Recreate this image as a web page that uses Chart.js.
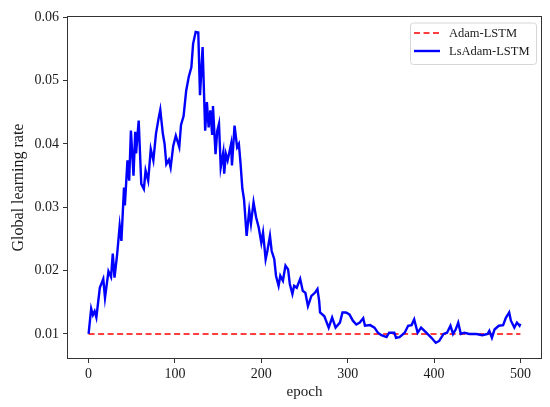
<!DOCTYPE html>
<html>
<head>
<meta charset="utf-8">
<script src="https://cdn.jsdelivr.net/npm/chart.js@4"></script>
<style>
  html, body { margin: 0; padding: 0; background: #fff; }
  #wrap { width: 550px; height: 407px; position: relative; }
</style>
</head>
<body>
<div id="wrap"><canvas id="c"></canvas></div>
<script>
// ---- data ----
const seriesNames = ['Adam-LSTM', 'LsAdam-LSTM'];
const adamEpochs = [0, 500];
const adamLR = [0.01, 0.01];
const lsEpochs = [0,3,5,7,9,13,17,19,23,26,28,30,33,36,38,41,42,45,47,49,52,54,55,58,61,64,66,69,72,75,78,81,83,86,88,90,93,95,98,101,105,107,110,113,116,119,121,124,127,129,132,135,137,139,141,143,144,147,149,151,153,156,157,159,161,165,166,169,172,174,176,178,180,183,186,188,191,194,197,200,202,205,207,210,212,215,217,220,222,225,228,231,233,236,238,241,245,248,251,254,258,262,265,267,268,273,278,282,286,291,294,298,302,306,310,314,318,320,326,331,335,339,345,348,354,356,360,366,370,374,377,381,385,391,397,402,406,411,415,419,422,425,428,431,435,441,449,456,462,464,467,470,475,480,483,487,489,493,496,499,500];
const lsLR = [0.0100,0.0140,0.0130,0.0136,0.0126,0.0173,0.0187,0.0157,0.0199,0.0190,0.0227,0.0189,0.0225,0.0271,0.0247,0.0331,0.0303,0.0374,0.0342,0.0421,0.0350,0.0419,0.0385,0.0437,0.0337,0.0329,0.0358,0.0342,0.0392,0.0374,0.0416,0.0440,0.0454,0.0416,0.0400,0.0368,0.0375,0.0363,0.0397,0.0413,0.0395,0.0430,0.0444,0.0484,0.0506,0.0521,0.0558,0.0577,0.0576,0.0477,0.0553,0.0421,0.0466,0.0426,0.0453,0.0416,0.0460,0.0384,0.0421,0.0432,0.0363,0.0387,0.0353,0.0384,0.0374,0.0400,0.0366,0.0429,0.0395,0.0400,0.0368,0.0330,0.0312,0.0255,0.0295,0.0274,0.0308,0.0284,0.0268,0.0244,0.0260,0.0218,0.0231,0.0255,0.0231,0.0218,0.0192,0.0176,0.0192,0.0184,0.0208,0.0202,0.0179,0.0163,0.0176,0.0173,0.0187,0.0168,0.0165,0.0144,0.0160,0.0165,0.0171,0.0152,0.0134,0.0128,0.0110,0.0126,0.0110,0.0118,0.0134,0.0134,0.0131,0.0121,0.0115,0.0118,0.0125,0.0113,0.0114,0.0110,0.0102,0.0098,0.0095,0.0102,0.0102,0.0094,0.0095,0.0102,0.0113,0.0114,0.0123,0.0102,0.0110,0.0102,0.0094,0.0086,0.0089,0.0100,0.0102,0.0113,0.0100,0.0107,0.0118,0.0100,0.0102,0.0100,0.0100,0.0098,0.0100,0.0105,0.0094,0.0107,0.0113,0.0114,0.0125,0.0134,0.0121,0.0110,0.0118,0.0113,0.0116];
const xTicks = [0, 100, 200, 300, 400, 500];
const yTicks = [0.01, 0.02, 0.03, 0.04, 0.05, 0.06];
const xTitle = 'epoch';
const yTitle = 'Global learning rate';

// ---- styles ----
const FONT = "'Liberation Serif', 'DejaVu Serif', serif";
const TEXT = '#1a1a1a';
const AXIS = '#333333';

const toPts = (xs, ys) => xs.map((x, i) => ({ x: x, y: ys[i] }));

const frameAndLegend = {
  id: 'frameAndLegend',
  afterDatasetsDraw(chart) {
    const { ctx, chartArea: a } = chart;
    ctx.save();
    ctx.strokeStyle = AXIS;
    ctx.lineWidth = 1;
    ctx.strokeRect(Math.round(a.left) + 0.5, Math.round(a.top) + 0.5,
                   Math.round(a.right - a.left) - 1, Math.round(a.bottom - a.top) - 1);
    ctx.restore();
  },
  afterDraw(chart) {
    const { ctx } = chart;
    const bx = 410, by = 22.5, bw = 126, bh = 41.5, r = 3;
    ctx.save();
    ctx.beginPath();
    ctx.roundRect(bx + 0.5, by + 0.5, bw, bh, r);
    ctx.fillStyle = 'rgba(255,255,255,0.85)';
    ctx.fill();
    ctx.strokeStyle = '#d6d6d6';
    ctx.lineWidth = 1;
    ctx.stroke();
    const order = [0, 1];
    const rows = [33, 51];
    order.forEach((di, k) => {
      const ds = chart.data.datasets[di];
      const y = rows[k];
      ctx.beginPath();
      ctx.setLineDash(ds.borderDash || []);
      ctx.strokeStyle = ds.borderColor;
      ctx.lineWidth = ds.borderWidth;
      ctx.moveTo(414, y);
      ctx.lineTo(440, y);
      ctx.stroke();
      ctx.setLineDash([]);
      ctx.fillStyle = TEXT;
      ctx.font = "12.5px " + FONT;
      ctx.textBaseline = 'middle';
      ctx.textAlign = 'left';
      ctx.fillText(ds.label, 449, y + 0.5);
    });
    ctx.restore();
  }
};

new Chart(document.getElementById('c'), {
  type: 'line',
  data: {
    datasets: [
      {
        label: seriesNames[0],
        data: toPts(adamEpochs, adamLR),
        borderColor: '#ff0000',
        borderWidth: 1.7,
        borderDash: [6, 3.5],
        pointRadius: 0,
        fill: false,
        order: 2
      },
      {
        label: seriesNames[1],
        data: toPts(lsEpochs, lsLR),
        borderColor: '#0000ff',
        borderWidth: 2.4,
        pointRadius: 0,
        tension: 0,
        fill: false,
        order: 1
      }
    ]
  },
  options: {
    responsive: true,
    maintainAspectRatio: false,
    animation: false,
    devicePixelRatio: 1,
    layout: { padding: { left: 0, right: 8, top: 16, bottom: 0 } },
    plugins: {
      legend: { display: false },
      tooltip: { enabled: false }
    },
    scales: {
      x: {
        type: 'linear',
        min: -25,
        max: 525,
        afterBuildTicks: (s) => { s.ticks = xTicks.map(v => ({ value: v })); },
        afterFit: (s) => { s.height = 48; },
        border: { display: false },
        grid: { drawOnChartArea: false, drawTicks: true, tickLength: 4, tickWidth: 1, tickColor: AXIS },
        ticks: { color: TEXT, font: { family: FONT, size: 14 }, padding: 3, maxRotation: 0,
                 callback: (v) => String(v) },
        title: { display: true, text: xTitle, color: TEXT, font: { family: FONT, size: 15 },
                 padding: { top: 0, bottom: 6 } }
      },
      y: {
        type: 'linear',
        min: 0.00605,
        max: 0.0602,
        afterBuildTicks: (s) => { s.ticks = yTicks.map(v => ({ value: v })); },
        afterFit: (s) => { s.width = 67; },
        border: { display: false },
        grid: { drawOnChartArea: false, drawTicks: true, tickLength: 4, tickWidth: 1, tickColor: AXIS },
        ticks: { color: TEXT, font: { family: FONT, size: 14 }, padding: 4,
                 callback: (v) => Number(v).toFixed(2) },
        title: { display: true, text: yTitle, color: TEXT, font: { family: FONT, size: 16 },
                 padding: { top: 9, bottom: 0 } }
      }
    }
  },
  plugins: [frameAndLegend]
});
</script>
</body>
</html>
